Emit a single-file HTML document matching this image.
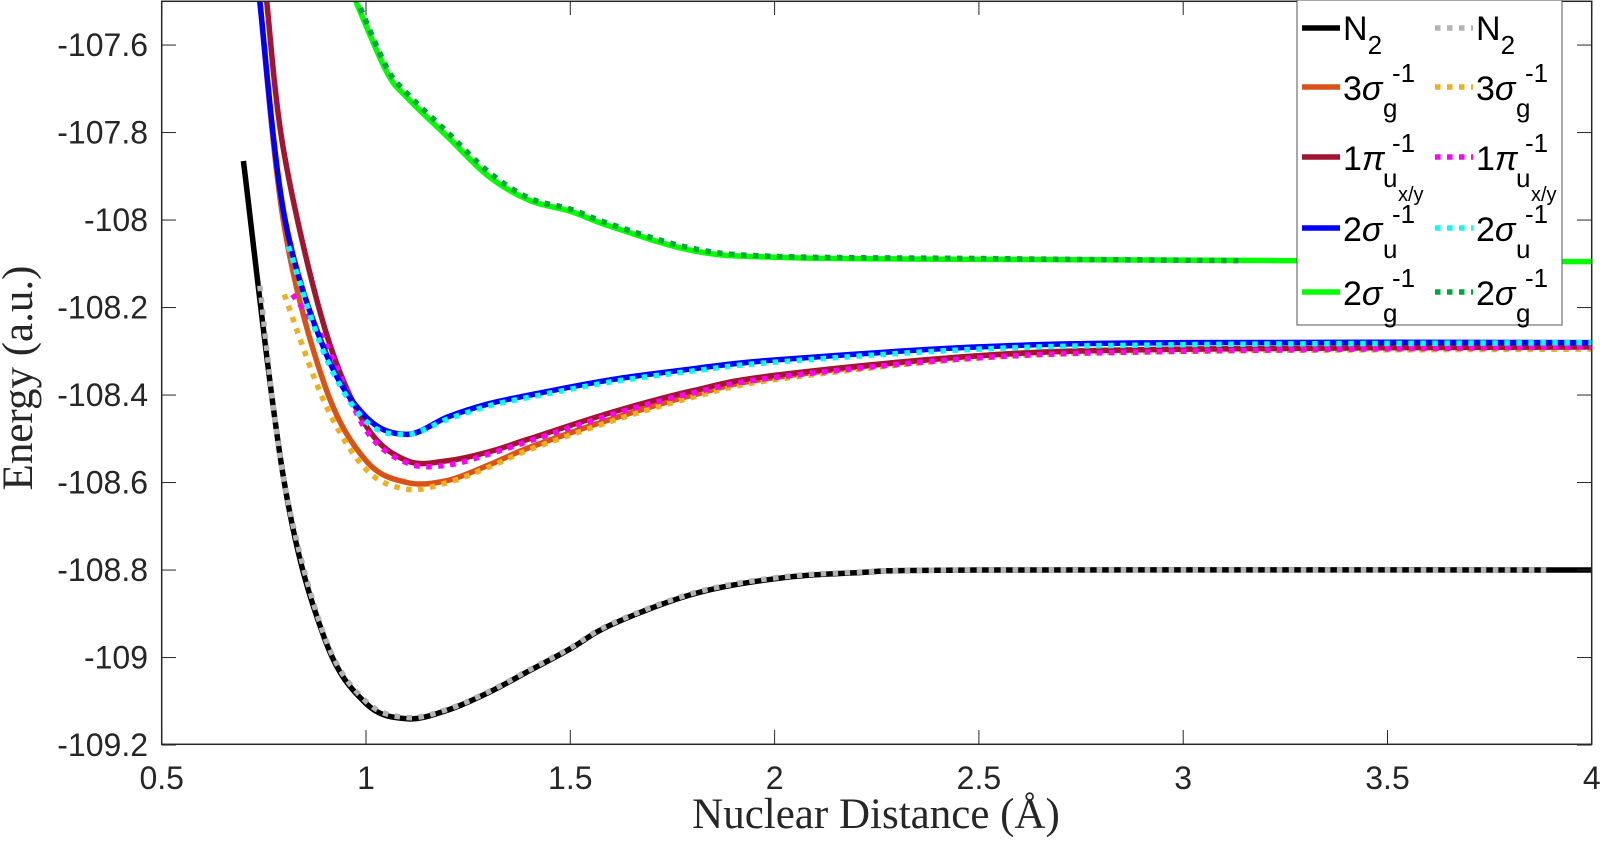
<!DOCTYPE html>
<html><head><meta charset="utf-8"><style>
html,body{margin:0;padding:0;background:#fff;}
svg{display:block;font-family:"Liberation Sans",Arial,sans-serif;}
</style></head><body>
<svg id="s" width="1600" height="842" xmlns="http://www.w3.org/2000/svg"></svg>
<script>
const X0=161.7,XS=408.6,Y0=1.3,YS=437.5;
const px=x=>X0+(x-0.5)*XS, py=e=>Y0+(-107.5-e)*YS;
const s=document.getElementById('s');
let h='<defs><clipPath id="c"><rect x="161.7" y="1" width="1430" height="743"/></clipPath></defs>';
function path(pts,col,dash){
 const P=pts.map(p=>[px(p[0]),py(p[1])]);
 let d='M'+P[0][0].toFixed(1)+' '+P[0][1].toFixed(1);
 for(let i=0;i<P.length-1;i++){
  const p0=P[i-1]||P[i],p1=P[i],p2=P[i+1],p3=P[i+2]||P[i+1];
  const c1=[p1[0]+(p2[0]-p0[0])/6,p1[1]+(p2[1]-p0[1])/6];
  const c2=[p2[0]-(p3[0]-p1[0])/6,p2[1]-(p3[1]-p1[1])/6];
  d+=` C${c1[0].toFixed(1)} ${c1[1].toFixed(1)} ${c2[0].toFixed(1)} ${c2[1].toFixed(1)} ${p2[0].toFixed(1)} ${p2[1].toFixed(1)}`;
 }
 h+=`<path d="${d}" fill="none" stroke="${col}" stroke-width="5.5" stroke-linejoin="round" ${dash?'stroke-dasharray="5.5 6.5"':''} clip-path="url(#c)"/>`;
}
const green=[[0.975,-107.5],[1.05,-107.66],[1.1,-107.72],[1.2,-107.81],[1.3,-107.9],[1.4,-107.955],[1.5,-107.98],[1.6,-108.015],[1.8,-108.07],[2,-108.085],[2.5,-108.09],[4,-108.095]];
const gd=[[0.975,-107.49],[1.05,-107.65],[1.1,-107.71],[1.2,-107.8],[1.3,-107.89],[1.4,-107.95],[1.5,-107.975],[1.6,-108.01],[1.8,-108.065],[2,-108.083],[2.5,-108.088],[3.15,-108.093]];
const blue=[[0.74,-107.5],[0.8,-107.99],[0.9,-108.3],[1.0,-108.45],[1.1,-108.49],[1.2,-108.45],[1.3,-108.42],[1.4,-108.4],[1.6,-108.365],[1.8,-108.34],[2,-108.32],[2.5,-108.29],[3,-108.28],[4,-108.28]];
const cyan=[[0.81,-108.06],[0.9,-108.31],[1.0,-108.46],[1.1,-108.49],[1.2,-108.455],[1.3,-108.425],[1.4,-108.405],[1.6,-108.37],[1.8,-108.345],[2,-108.325],[2.5,-108.295],[3,-108.285],[4,-108.28]];
const red=[[0.757,-107.5],[0.8,-107.85],[0.9,-108.25],[1.0,-108.47],[1.1,-108.55],[1.2,-108.55],[1.3,-108.53],[1.4,-108.5],[1.6,-108.44],[1.8,-108.39],[2,-108.355],[2.5,-108.31],[3,-108.295],[4,-108.29]];
const mag=[[0.82,-108.17],[0.9,-108.28],[1.0,-108.48],[1.1,-108.555],[1.2,-108.56],[1.3,-108.535],[1.4,-108.505],[1.6,-108.445],[1.8,-108.395],[2,-108.36],[2.5,-108.315],[3,-108.3],[4,-108.29]];
const org=[[0.74,-107.5],[0.8,-108.015],[0.9,-108.38],[1.0,-108.55],[1.1,-108.6],[1.2,-108.595],[1.3,-108.56],[1.4,-108.52],[1.6,-108.455],[1.8,-108.4],[2,-108.36],[2.5,-108.31],[3,-108.295],[4,-108.29]];
const orgd=[[0.8,-108.17],[0.9,-108.42],[1.0,-108.57],[1.1,-108.615],[1.2,-108.6],[1.3,-108.565],[1.4,-108.525],[1.6,-108.46],[1.8,-108.405],[2,-108.365],[2.5,-108.315],[3,-108.3],[4,-108.295]];
const n2=[[0.7,-107.865],[0.8,-108.6],[0.9,-108.96],[1.0,-109.105],[1.1,-109.14],[1.2,-109.12],[1.3,-109.08],[1.4,-109.03],[1.5,-108.98],[1.6,-108.925],[1.8,-108.855],[2,-108.82],[2.2,-108.806],[2.5,-108.8],[4,-108.8]];
const n2d=[[0.74,-108.15],[0.8,-108.6],[0.9,-108.955],[1.0,-109.1],[1.1,-109.137],[1.2,-109.118],[1.3,-109.078],[1.4,-109.028],[1.5,-108.978],[1.6,-108.923],[1.8,-108.853],[2,-108.818],[2.2,-108.805],[2.5,-108.8],[3.9,-108.8]];
path(green,'#00ff00');path(gd,'#00a838',1);
path(n2,'#000');path(n2d,'#b3b3b3',1);
path(org,'#d95319');path(orgd,'#edb120',1);
path(red,'#a2142f');path(mag,'#ff00ff',1);
path(blue,'#0000ff');path(cyan,'#00ffff',1);
h+='<rect x="161.7" y="1.3" width="1430" height="743" fill="none" stroke="#262626" stroke-width="1.5"/>';
for(let i=0;i<=7;i++){const x=0.5+i*0.5,X=px(x);
 h+=`<line x1="${X}" y1="744" x2="${X}" y2="730" stroke="#262626" stroke-width="1"/><line x1="${X}" y1="1.3" x2="${X}" y2="15" stroke="#262626" stroke-width="1"/>`;
 h+=`<text x="${X}" y="789" font-size="32" text-anchor="middle" fill="#262626">${x}</text>`;}
const yl=[-107.6,-107.8,-108,-108.2,-108.4,-108.6,-108.8,-109,-109.2];
for(const e of yl){const Y=py(e);
 h+=`<line x1="161.7" y1="${Y}" x2="176" y2="${Y}" stroke="#262626" stroke-width="1"/><line x1="1591.7" y1="${Y}" x2="1577" y2="${Y}" stroke="#262626" stroke-width="1"/>`;
 h+=`<text x="148" y="${Y+11}" font-size="32" text-anchor="end" fill="#262626">${e}</text>`;}
h+='<text x="876" y="828" font-size="43" text-anchor="middle" font-family="Liberation Serif,serif" fill="#262626">Nuclear Distance (Å)</text>';
h+='<text transform="translate(32,378) rotate(-90)" font-size="43" text-anchor="middle" font-family="Liberation Serif,serif" fill="#262626">Energy (a.u.)</text>';
h+='<rect x="1297" y="0" width="265" height="325" fill="#fff" stroke="#555" stroke-width="1"/>';
const L=[['#000','#b3b3b3','N','2',''],['#d95319','#edb120','3σ','g','-1'],['#a2142f','#ff00ff','1π','u','-1','x/y'],['#0000ff','#00ffff','2σ','u','-1'],['#00ff00','#00a838','2σ','g','-1']];
const RY=[28,87,157,228,292];
L.forEach((r,i)=>{const y=RY[i];
 [[1302,r[0],0],[1435,r[1],1]].forEach(([x,c,d])=>{
  h+=`<line x1="${x}" y1="${y}" x2="${x+38}" y2="${y}" stroke="${c}" stroke-width="5.5" ${d?'stroke-dasharray="5.5 6.5"':''}/>`;
  const tx=x+41;
  if(i==0){h+=`<text x="${tx}" y="${y+12}" font-size="34" fill="#000">N<tspan font-size="26" dy="14">2</tspan></text>`;}
  else{
   h+=`<text x="${tx}" y="${y+13}" font-size="34" fill="#000">${r[2][0]}<tspan font-style="italic">${r[2][1]}</tspan></text>`;
   h+=`<text x="${tx+49}" y="${y-5}" font-size="26" fill="#000">-1</text>`;
   h+=`<text x="${tx+40}" y="${y+30}" font-size="26" fill="#000">${r[3]}</text>`;
   if(r[5])h+=`<text x="${tx+55}" y="${y+44}" font-size="20" fill="#000">x/y</text>`;}
 });});
s.innerHTML=h;
</script>
</body></html>
